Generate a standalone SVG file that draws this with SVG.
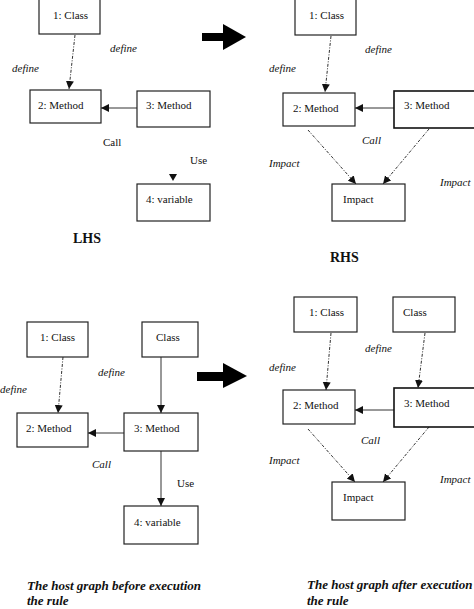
<svg xmlns="http://www.w3.org/2000/svg" width="474" height="609" viewBox="0 0 474 609">
<style>
.box{fill:#fff;stroke:#222;stroke-width:1.2}
.box2{fill:#fff;stroke:#111;stroke-width:1.6}
text{font-family:'Liberation Serif','Times New Roman','DejaVu Serif',serif;fill:#111}
.t{font-size:11px}
.l{font-size:11px;font-style:italic}
.lu{font-size:11px}
.h{font-size:14px;font-weight:bold}
.cap{font-size:13px;font-weight:bold;font-style:italic}
.c{stroke:#333;stroke-width:1;fill:none}
.d{stroke:#333;stroke-width:1;fill:none;stroke-dasharray:3,1.5,1,1.5}
.big{fill:#000}
</style>
<defs>
<marker id="ah" markerUnits="userSpaceOnUse" markerWidth="9" markerHeight="9" refX="8" refY="4.5" orient="auto">
<path d="M0,0.5 L8,4.5 L0,8.5 Z" fill="#111"/>
</marker>
</defs>

<g id="big-arrows">
<rect class="big" x="202" y="33" width="22" height="8"/>
<polygon class="big" points="223,24 246,37 223,50"/>
<rect class="big" x="197" y="372" width="27" height="9"/>
<polygon class="big" points="223,363 247,376 223,388"/>
</g>

<g id="connectors">
<line class="d" x1="75" y1="35" x2="69" y2="89" marker-end="url(#ah)"/>
<line class="c" x1="137" y1="108" x2="101" y2="108" marker-end="url(#ah)"/>
<polygon points="169,174 177,174 173,181" fill="#111"/>

<line class="d" x1="331" y1="36" x2="325" y2="92" marker-end="url(#ah)"/>
<line class="c" x1="394" y1="108" x2="355" y2="108" marker-end="url(#ah)"/>
<line class="d" x1="308" y1="130" x2="356" y2="184" marker-end="url(#ah)"/>
<line class="d" x1="429" y1="129" x2="383" y2="184" marker-end="url(#ah)"/>

<line class="d" x1="63" y1="357" x2="58" y2="413" marker-end="url(#ah)"/>
<line class="c" x1="161" y1="357" x2="161" y2="413" marker-end="url(#ah)"/>
<line class="c" x1="124" y1="433" x2="88" y2="433" marker-end="url(#ah)"/>
<line class="c" x1="161" y1="451" x2="161" y2="506" marker-end="url(#ah)"/>

<line class="d" x1="331" y1="333" x2="326" y2="390" marker-end="url(#ah)"/>
<line class="d" x1="425" y1="333" x2="418" y2="388" marker-end="url(#ah)"/>
<line class="c" x1="394" y1="410" x2="355" y2="410" marker-end="url(#ah)"/>
<line class="d" x1="308" y1="429" x2="355" y2="482" marker-end="url(#ah)"/>
<line class="d" x1="429" y1="427" x2="383" y2="482" marker-end="url(#ah)"/>
</g>

<g id="labels">
<text class="l" x="110" y="52">define</text>
<text class="l" x="12" y="72">define</text>
<text class="lu" x="103" y="146">Call</text>
<text class="lu" x="190" y="164">Use</text>
<text class="h" x="73" y="243">LHS</text>

<text class="l" x="365" y="53">define</text>
<text class="l" x="269" y="72">define</text>
<text class="l" x="362" y="144">Call</text>
<text class="l" x="269" y="167">Impact</text>
<text class="l" x="440" y="186">Impact</text>
<text class="h" x="330" y="262">RHS</text>

<text class="l" x="98" y="376">define</text>
<text class="l" x="0" y="393">define</text>
<text class="l" x="92" y="468">Call</text>
<text class="lu" x="177" y="487">Use</text>
<text class="cap" x="27" y="590">The host graph before execution</text>
<text class="cap" x="27" y="605">the rule</text>

<text class="l" x="365" y="352">define</text>
<text class="l" x="269" y="371">define</text>
<text class="l" x="361" y="444">Call</text>
<text class="l" x="269" y="464">Impact</text>
<text class="l" x="440" y="483">Impact</text>
<text class="cap" x="307" y="589">The host graph after execution</text>
<text class="cap" x="307" y="605">the rule</text>
</g>

<g id="lhs-class1"><rect class="box" x="39" y="-5" width="61" height="39"/><text class="t" x="53" y="19">1: Class</text></g>
<g id="lhs-method2"><rect class="box" x="30" y="90" width="71" height="33"/><text class="t" x="38" y="109">2: Method</text></g>
<g id="lhs-method3"><rect class="box" x="137" y="91" width="73" height="36"/><text class="t" x="146" y="109">3: Method</text></g>
<g id="lhs-variable4"><rect class="box" x="137" y="184" width="73" height="37"/><text class="t" x="146" y="203">4: variable</text></g>

<g id="rhs-class1"><rect class="box" x="295" y="-5" width="61" height="40"/><text class="t" x="309" y="19">1: Class</text></g>
<g id="rhs-method2"><rect class="box" x="283" y="93" width="72" height="33"/><text class="t" x="293" y="112">2: Method</text></g>
<g id="rhs-method3"><rect class="box2" x="394" y="91" width="85" height="37"/><text class="t" x="404" y="109">3: Method</text></g>
<g id="rhs-impact"><rect class="box" x="332" y="184" width="73" height="37"/><text class="t" x="343" y="203">Impact</text></g>

<g id="before-class1"><rect class="box" x="27" y="322" width="61" height="35"/><text class="t" x="40" y="341">1: Class</text></g>
<g id="before-class"><rect class="box" x="142" y="322" width="56" height="35"/><text class="t" x="156" y="341">Class</text></g>
<g id="before-method2"><rect class="box" x="17" y="413" width="71" height="34"/><text class="t" x="26" y="432">2: Method</text></g>
<g id="before-method3"><rect class="box" x="124" y="413" width="74" height="38"/><text class="t" x="134" y="432">3: Method</text></g>
<g id="before-variable4"><rect class="box" x="124" y="506" width="74" height="38"/><text class="t" x="134" y="526">4: variable</text></g>

<g id="after-class1"><rect class="box" x="294" y="297" width="63" height="35"/><text class="t" x="309" y="316">1: Class</text></g>
<g id="after-class"><rect class="box" x="393" y="297" width="62" height="35"/><text class="t" x="403" y="316">Class</text></g>
<g id="after-method2"><rect class="box" x="283" y="390" width="72" height="34"/><text class="t" x="293" y="409">2: Method</text></g>
<g id="after-method3"><rect class="box2" x="394" y="388" width="85" height="39"/><text class="t" x="404" y="407">3: Method</text></g>
<g id="after-impact"><rect class="box" x="332" y="482" width="73" height="38"/><text class="t" x="343" y="501">Impact</text></g>
</svg>
